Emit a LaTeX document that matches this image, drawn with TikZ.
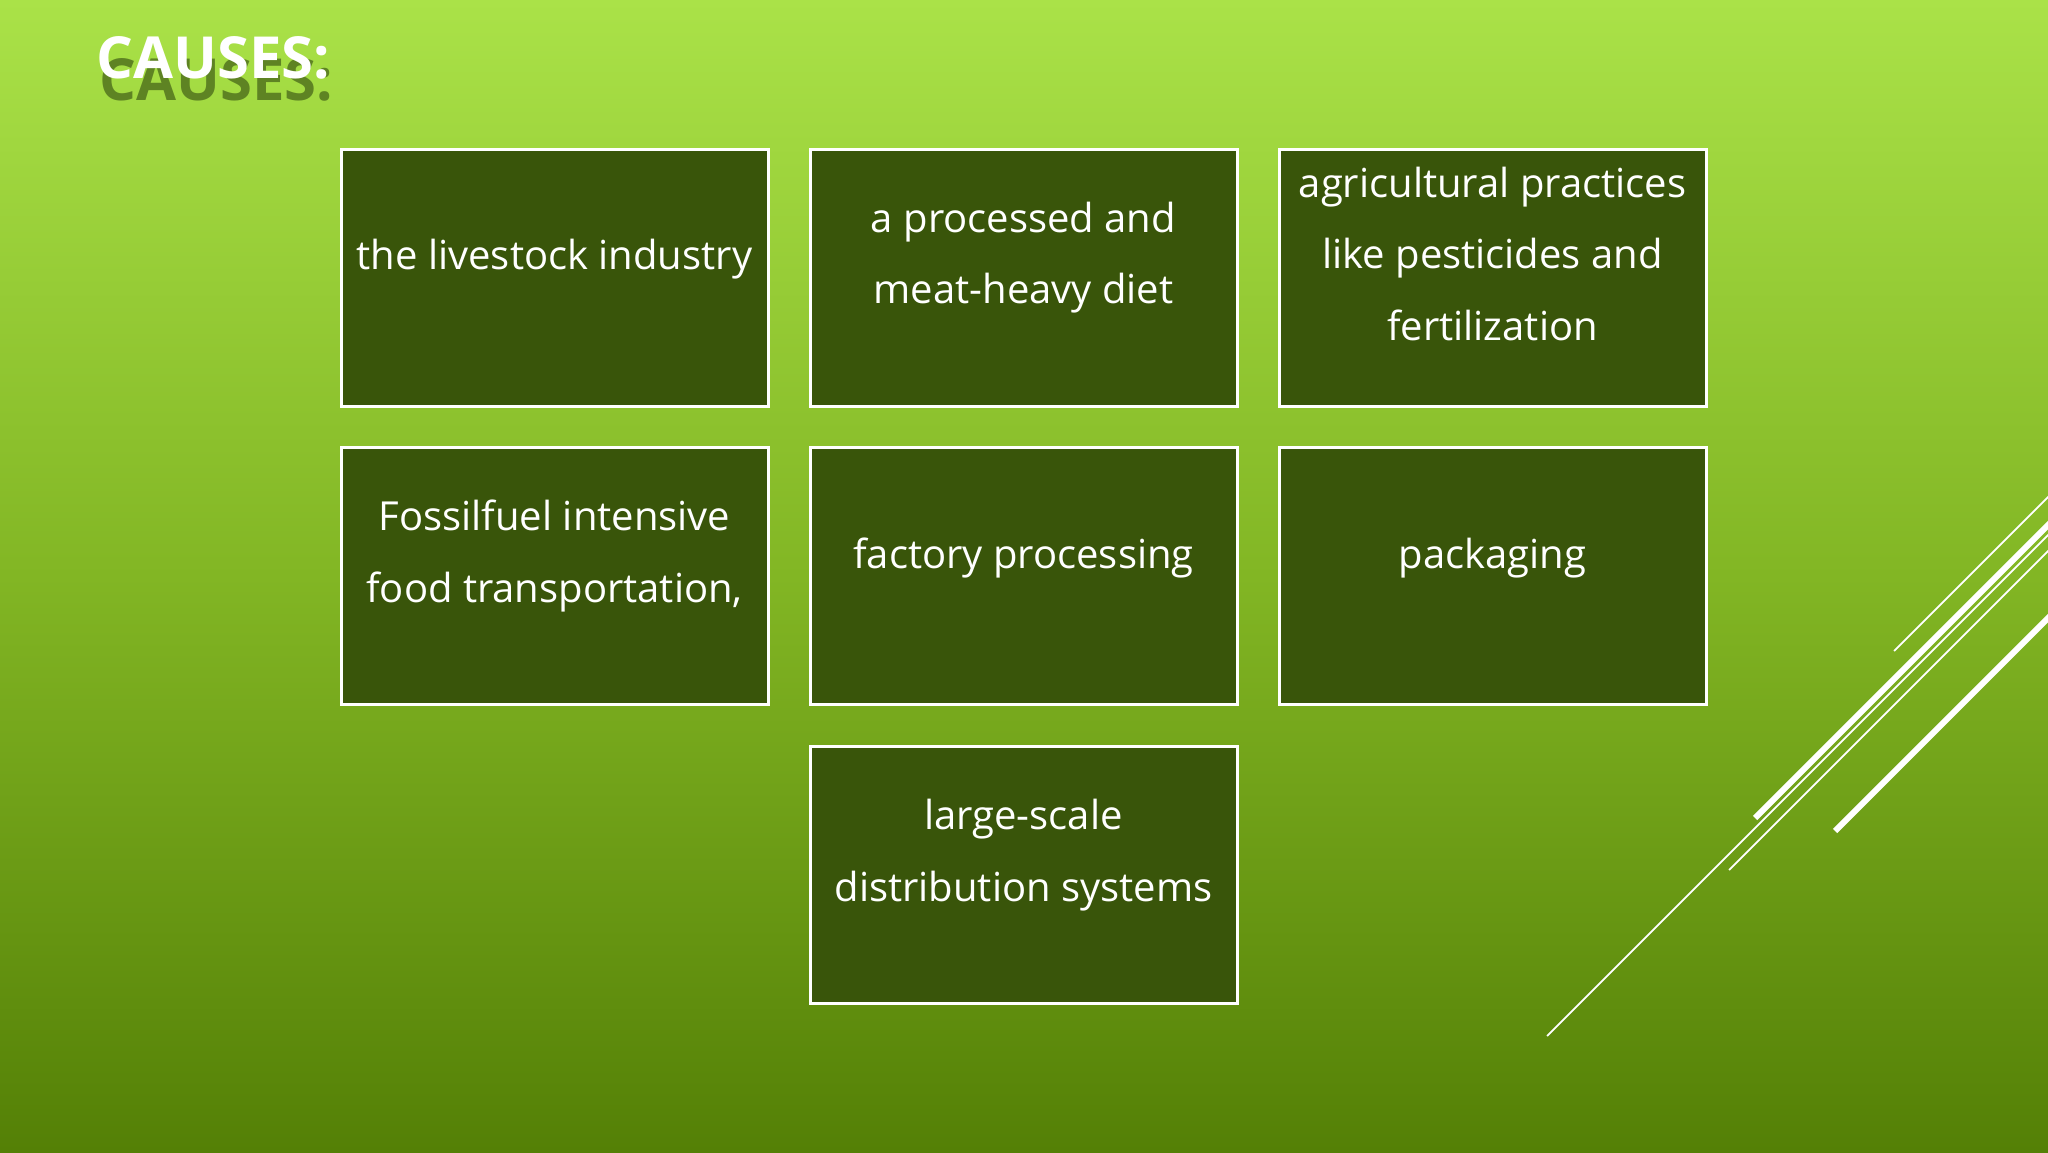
\documentclass[tikz,border=0pt]{standalone}
\usepackage{fontspec}
\setmainfont{Open Sans}
\definecolor{bgtop}{RGB}{170,226,72}
\definecolor{bgmid}{RGB}{130,182,36}
\definecolor{bgbot}{RGB}{84,128,6}
\definecolor{boxfill}{RGB}{57,85,10}
\definecolor{shadowc}{RGB}{82,116,30}
\begin{document}
\begin{tikzpicture}[x=0.5pt,y=-0.5pt,
  causebox/.style={draw=white,line width=1.5pt,fill=boxfill,minimum width=213.5pt,minimum height=128.5pt,inner sep=0pt},
  causetext/.style={text=white,align=center,font=\fontsize{20}{35.75}\selectfont,inner sep=0pt},
  thinline/.style={white,line width=0.9pt},
  thickline/.style={white,line width=3pt}]
\useasboundingbox (0,0) rectangle (2048,1152);
\clip (0,0) rectangle (2048,1152);
\shade[top color=bgtop,bottom color=bgbot,middle color=bgmid] (0,0) rectangle (2048,1152);
% title
\node[anchor=base west,inner sep=0pt,text=shadowc,opacity=0.85,font=\bfseries\fontsize{29}{35}\selectfont] (titleshadow) at (99,100) {CAUSES:};
\node[anchor=base west,inner sep=0pt,text=white,font=\bfseries\fontsize{29}{35}\selectfont] (title) at (96,78) {CAUSES:};
% boxes
\node[causebox] (b1) at (554.5,277.5) {};
\node[causebox] (b2) at (1023.5,277.5) {};
\node[causebox] (b3) at (1492.5,277.5) {};
\node[causebox] (b4) at (554.5,576) {};
\node[causebox] (b5) at (1023.5,576) {};
\node[causebox] (b6) at (1492.5,576) {};
\node[causebox] (b7) at (1023.5,875) {};
\node[causetext] (t1) at ([yshift=9pt]b1.center) {the livestock industry};
\node[causetext] (t2) at ([yshift=10pt]b2.center) {a processed and\\meat-heavy diet};
\node[causetext] (t3) at ([yshift=12pt]b3.center) {agricultural practices\\like pesticides and\\fertilization};
\node[causetext] (t4) at ([yshift=10pt]b4.center) {Fossilfuel intensive\\food transportation,};
\node[causetext] (t5) at ([yshift=9pt]b5.center) {factory processing};
\node[causetext] (t6) at ([yshift=9pt]b6.center) {packaging};
\node[causetext] (t7) at ([yshift=10pt]b7.center) {large-scale\\distribution systems};
% decorative lines
\draw[thinline] (1894,651) -- (2050,495);
\draw[thickline] (1755,818) -- (2052,521);
\draw[thinline] (1547,1036) -- (2050,533);
\draw[thinline] (1729,870) -- (2050,549);
\draw[thickline] (1835,831) -- (2052,614);
\end{tikzpicture}
\end{document}
